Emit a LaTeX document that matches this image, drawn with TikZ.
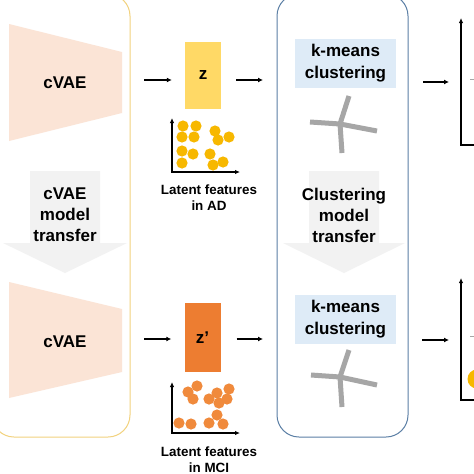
\documentclass[tikz,border=0pt]{standalone}
\usepackage{fontspec}
\setmainfont{Liberation Sans}
\usetikzlibrary{arrows.meta}
\definecolor{ybord}{HTML}{F2D27E}
\definecolor{bbord}{HTML}{5B7FA5}
\definecolor{peach}{HTML}{FBE4D6}
\definecolor{zyel}{HTML}{FFD966}
\definecolor{zorg}{HTML}{ED7D31}
\definecolor{doty}{HTML}{F7B800}
\definecolor{doto}{HTML}{F08A3C}
\definecolor{tgray}{HTML}{F2F2F2}
\definecolor{kblue}{HTML}{DEEBF7}
\definecolor{crossg}{HTML}{A6A6A6}
\begin{document}
\begin{tikzpicture}[x=1pt,y=-1pt,
  lbl/.style={font=\bfseries\fontsize{17}{21}\selectfont, align=center, inner sep=0pt, text=black},
  small/.style={font=\bfseries\fontsize{13.4}{16}\selectfont, align=center, inner sep=0pt},
  conn/.style={-{Latex[length=5pt,width=5pt]}, line width=1.3pt},
  axis/.style={{Latex[length=5pt,width=4.5pt]}-{Latex[length=5pt,width=4.5pt]}, line width=1.3pt},
  axisr/.style={{Latex[length=5pt,width=4.5pt]}-, line width=1.3pt},
  panel/.style={rounded corners=22pt, line width=1pt, fill=white},
  trap/.style={fill=peach},
  xfer/.style={fill=tgray},
  zbox/.style={minimum width=36pt, minimum height=67pt, inner sep=0pt, font=\bfseries\fontsize{17}{21}\selectfont},
  kbox/.style={fill=kblue, minimum width=101pt, minimum height=49pt, inner sep=0pt, align=center, font=\bfseries\fontsize{17}{22}\selectfont},
  crossl/.style={draw=crossg, line width=5pt},
]
\useasboundingbox (0,0) rectangle (474,474);
\clip (0,0) rectangle (474,474);
\fill[white] (0,0) rectangle (474,474);

% panels
\draw[panel, draw=ybord] (-8,-6) rectangle (130,437);
\draw[panel, draw=bbord] (277,-6) rectangle (408,437);

% cVAE trapezoids
\fill[trap] (9,24) -- (122,52) -- (122,113) -- (9,141) -- cycle;
\node[lbl] (cvae1) at (65,83) {cVAE};
\fill[trap] (9,282) -- (122,309) -- (122,372) -- (9,398) -- cycle;
\node[lbl] (cvae2) at (65,342) {cVAE};

% transfer arrows
\fill[xfer] (30,171) -- (100,171) -- (100,243) -- (127,243) -- (65,273) -- (3,243) -- (30,243) -- cycle;
\node[lbl] (t1) at (65,215) {cVAE\\model\\transfer};
\fill[xfer] (309,171) -- (379,171) -- (379,243) -- (405,243) -- (344,273) -- (283,243) -- (309,243) -- cycle;
\node[lbl] (t2) at (344,215) {Clustering\\model\\transfer};

% latent boxes
\node[zbox, fill=zyel] (z1) at (203,75.5) {z};
\node[zbox, fill=zorg, minimum height=69pt] (z2) at (202.5,337.5) {z’};

% arrows
\coordinate (a1) at (144,80);
\coordinate (a2) at (144,339);
\coordinate (b1) at (263,80);
\coordinate (b2) at (263,339);
\coordinate (c1s) at (423,82);
\coordinate (c1e) at (449,82);
\coordinate (c2s) at (422,340);
\coordinate (c2e) at (449,340);
\draw[conn, shorten >=13pt] (a1) -- (z1.west |- a1);
\draw[conn, shorten >=13pt] (a2) -- (z2.west |- a2);
\draw[conn, shorten <=15pt] (z1.east |- b1) -- (b1);
\draw[conn, shorten <=16pt] (z2.east |- b2) -- (b2);
\draw[conn] (c1s) -- (c1e);
\draw[conn] (c2s) -- (c2e);

% scatter top
\coordinate (o1) at (172,172);
\coordinate (o1y) at (172,118);
\coordinate (o1x) at (240,172);
\draw[axis] (o1y) -- (o1) -- (o1x);
\foreach \p in {(183,126),(196,126),(182,137),(194,137),(215,131),(218,140),(229,137),(182,151),(193,154),(210,154),(182,163),(213,165),(223,162)}
  \fill[doty] \p circle (5.6);
\node[small] (lf1) at (209,198) {Latent features\\in AD};

% scatter bottom
\coordinate (o2) at (172,433);
\coordinate (o2y) at (172,382);
\coordinate (o2x) at (240,433);
\draw[axis] (o2y) -- (o2) -- (o2x);
\foreach \p in {(188,392),(197,386),(193,399),(209,399),(217,393),(229,389),(227,399),(219,403),(217,415),(179,423),(191,424),(209,423),(223,424)}
  \fill[doto] \p circle (5.6);
\node[small] (lf2) at (209,460) {Latent features\\in MCI};

% k-means boxes
\node[kbox] (k1) at (345.5,63.5) {k-means\\clustering};
\node[kbox] (k2) at (345.5,319.5) {k-means\\clustering};

% crosses
\coordinate (j1) at (340,124);
\draw[crossl] (j1) -- (349,96);
\draw[crossl] (j1) -- (310,122);
\draw[crossl] (j1) -- (377,131);
\draw[crossl] (j1) -- (342,153);
\coordinate (j2) at (340,377);
\draw[crossl] (j2) -- (349,350);
\draw[crossl] (j2) -- (311,375);
\draw[crossl] (j2) -- (377,385);
\draw[crossl] (j2) -- (342,407);

% right result axes
\coordinate (r1o) at (461,145);
\coordinate (r1y) at (461,18);
\coordinate (r1x) at (480,145);
\draw[axisr] (r1y) -- (r1o) -- (r1x);
\draw[gray!70, line width=0.6pt] (470,79) -- (476,79);
\coordinate (r2o) at (461,400);
\coordinate (r2y) at (461,278);
\coordinate (r2x) at (480,400);
\fill[doty] (477,379) circle (9.5);
\draw[axisr] (r2y) -- (r2o) -- (r2x);
\draw[gray!70, line width=0.6pt] (470,336) -- (476,336);
\end{tikzpicture}
\end{document}
